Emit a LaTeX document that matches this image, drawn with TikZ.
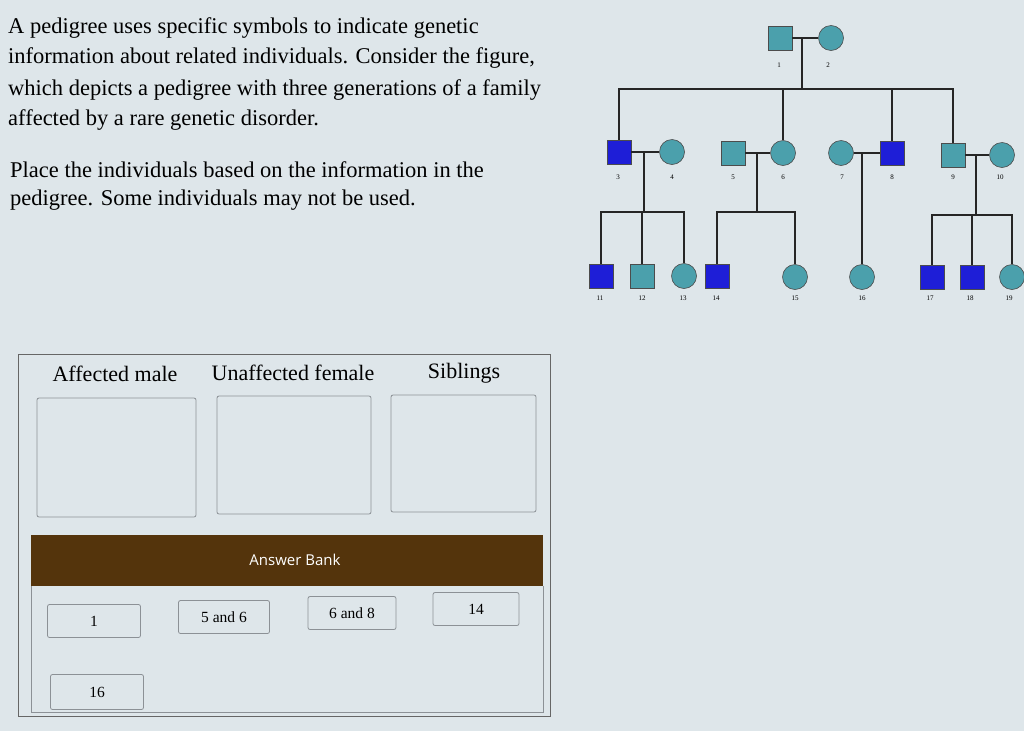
\documentclass[tikz,border=0pt]{standalone}
\usepackage{fontspec}
\setmainfont{Liberation Serif}
\newfontfamily\uisans{Open Sans}
\definecolor{bg}{RGB}{222,230,234}
\definecolor{aff}{RGB}{30,30,215}
\definecolor{unaff}{RGB}{75,160,172}
\definecolor{bank}{RGB}{84,52,12}
\definecolor{boxln}{RGB}{140,145,150}
\begin{document}
\begin{tikzpicture}[x=1pt,y=-1pt,
  sq/.style={draw=black!70,line width=0.6pt,minimum size=24pt,inner sep=0pt},
  ci/.style={circle,draw=black!70,line width=0.6pt,minimum size=25pt,inner sep=0pt},
  A/.style={fill=aff}, U/.style={fill=unaff},
  num/.style={font=\fontsize{7}{8}\selectfont,inner sep=0pt},
  ln/.style={line width=1.6pt,black!85},
  txt/.style={anchor=west,inner sep=0pt,font=\fontsize{22.5}{26}\selectfont},
  hd/.style={font=\fontsize{22}{26}\selectfont,inner sep=0pt},
  drop/.style={draw=boxln,line width=0.8pt,rounded corners=2pt},
  btn/.style={draw=boxln,line width=0.8pt,rounded corners=2pt,font=\fontsize{15.5}{18}\selectfont}]
\fill[bg] (0,0) rectangle (1024,731);
\useasboundingbox (0,0) rectangle (1024,731);
% text
\node[txt] (t1) at (8,28) {A pedigree uses specific symbols to indicate genetic};
\node[txt] (t2) at (8,58) {information about related individuals. Consider the figure,};
\node[txt] (t3) at (8,90) {which depicts a pedigree with three generations of a family};
\node[txt] (t4) at (8,120) {affected by a rare genetic disorder.};
\node[txt] (t5) at (10,170) {Place the individuals based on the information in the};
\node[txt] (t6) at (10,200) {pedigree. Some individuals may not be used.};
% pedigree gen1
\node[sq,U] (p1) at (780,38) {};
\node[ci,U] (p2) at (831,38) {};
% gen2
\node[sq,A] (p3) at (619,152) {};
\node[ci,U] (p4) at (672,152) {};
\node[sq,U] (p5) at (733,153) {};
\node[ci,U] (p6) at (783,153) {};
\node[ci,U] (p7) at (841,153) {};
\node[sq,A] (p8) at (892,153) {};
\node[sq,U] (p9) at (953,155) {};
\node[ci,U] (p10) at (1002,155) {};
% gen3
\node[sq,A] (p11) at (601,276) {};
\node[sq,U] (p12) at (642,276) {};
\node[ci,U] (p13) at (684,276) {};
\node[sq,A] (p14) at (717,276) {};
\node[ci,U] (p15) at (795,277) {};
\node[ci,U] (p16) at (862,277) {};
\node[sq,A] (p17) at (932,277) {};
\node[sq,A] (p18) at (972,277) {};
\node[ci,U] (p19) at (1012,277) {};
\node[num] at (779,65) {1}; \node[num] at (828,65) {2};
\foreach \i/\x in {3/618,4/672,5/733,6/783,7/842,8/892,9/953,10/1000}{\node[num] (l\i) at (\x,177) {\i};}
\foreach \i/\x in {11/600,12/642,13/683,14/716,15/795,16/862,17/930,18/970,19/1009}{\node[num] (l\i) at (\x,298) {\i};}
% lines
\coordinate (m12) at (802,38); \coordinate (s1) at (802,89);
\coordinate (g2) at (0,89);
\draw[ln] (p1) -- (p2);
\draw[ln] (m12) -- (s1);
\draw[ln] (p3.north) -- (p3.north |- g2) -- (p9.north |- g2) -- (p9.north);
\draw[ln] (p6.north |- g2) -- (p6.north);
\draw[ln] (p8.north |- g2) -- (p8.north);
\draw[ln] (p3) -- (p4); \draw[ln] (p5) -- (p6); \draw[ln] (p7) -- (p8); \draw[ln] (p9) -- (p10);
\coordinate (a) at (0,212); \coordinate (b) at (0,215);
\draw[ln] (644,152) -- (644,212);
\draw[ln] (p11.north) -- (p11.north |- a) -- (p13.north |- a) -- (p13.north);
\draw[ln] (p12.north |- a) -- (p12.north);
\draw[ln] (757,153) -- (757,212);
\draw[ln] (p14.north) -- (p14.north |- a) -- (p15.north |- a) -- (p15.north);
\draw[ln] (p16.north |- 0,153) -- (p16.north);
\draw[ln] (976,155) -- (976,215);
\draw[ln] (p17.north) -- (p17.north |- b) -- (p19.north |- b) -- (p19.north);
\draw[ln] (p18.north |- b) -- (p18.north);
% panel
\draw[draw=black!60,line width=0.6pt] (18,354) rectangle (550,716);
\node[hd] (h1) at (115,374) {Affected male};
\node[hd] (h2) at (293,373) {Unaffected female};
\node[hd] (h3) at (464,373) {Siblings};
\draw[drop] (37,398) rectangle (196,517);
\draw[drop] (217,396) rectangle (371,514);
\draw[drop] (391,395) rectangle (536,512);
\fill[bank] (31,535) rectangle (543,586);
\node[font=\uisans\fontsize{15}{17}\selectfont,text=white] (ab) at (295,560) {Answer Bank};
\draw[draw=boxln,line width=0.6pt] (31,586) -- (31,712) -- (543,712) -- (543,586);
\node[btn,minimum width=93pt,minimum height=33pt] (b1) at (94,621) {1};
\node[btn,minimum width=91pt,minimum height=33pt] (b2) at (224,617) {5 and 6};
\node[btn,minimum width=88pt,minimum height=33pt] (b3) at (352,613) {6 and 8};
\node[btn,minimum width=86pt,minimum height=33pt] (b4) at (476,609) {14};
\node[btn,minimum width=93pt,minimum height=35pt] (b5) at (97,692) {16};
\end{tikzpicture}
\end{document}
